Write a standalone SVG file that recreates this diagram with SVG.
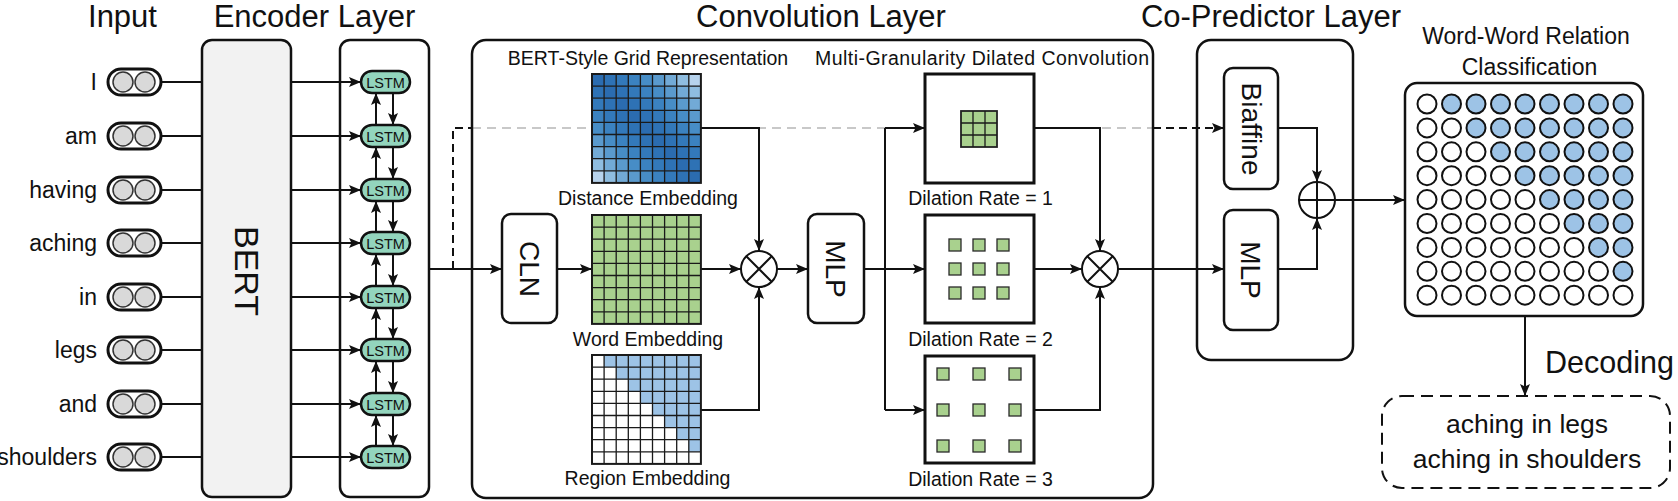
<svg xmlns="http://www.w3.org/2000/svg" xmlns:xlink="http://www.w3.org/1999/xlink" width="1678" height="501" viewBox="0 0 1678 501">
<style>
.t{font-family:"Liberation Sans",Arial,Helvetica,sans-serif;fill:#111}
.h{font-size:31px;text-anchor:middle}
.w{font-size:23px;text-anchor:end}
.s{font-size:19.5px;text-anchor:middle}
.m{text-anchor:middle}
.ln{fill:none;stroke:#111;stroke-width:2}
.ar{marker-end:url(#ah)}
.box{fill:none;stroke:#111;stroke-width:2.5}
.rb{fill:#fff;stroke:#111;stroke-width:2.5}
.dil{fill:#fff;stroke:#111;stroke-width:3}
.gl{fill:none;stroke:#1a1a1a;stroke-width:1.3}
.gb{fill:none;stroke:#1a1a1a;stroke-width:2}
.sq{fill:#a9d18e;stroke:#2a2a2a;stroke-width:1.3}
.pill{fill:#93d5bd;stroke:#111;stroke-width:2.5}
.oval{fill:#fff;stroke:#111;stroke-width:3}
.dot{fill:#d9d9d9;stroke:#333;stroke-width:1.5}
.op{fill:#fff;stroke:#111;stroke-width:2}
.d0{fill:#2b6cb0}.d1{fill:#2e72b5}.d2{fill:#3379ba}.d3{fill:#3b82c0}.d4{fill:#478dc6}.d5{fill:#5a9acd}.d6{fill:#72aad6}.d7{fill:#8fbde0}.d8{fill:#b7d3ed}
.cc circle{fill:#fff;stroke:#111;stroke-width:2}
.cc circle.b{fill:#9dc3e6}
</style>
<defs>
<marker id="ah" viewBox="0 0 12 10" refX="12" refY="5" markerWidth="12" markerHeight="10" markerUnits="userSpaceOnUse" orient="auto">
<path d="M0,0 L12,5 L0,10 L2.5,5 z" fill="#111"/>
</marker>
<g id="grid9">
<path class="gl" d="M0,12.1H108.9M0,24.2H108.9M0,36.3H108.9M0,48.4H108.9M0,60.5H108.9M0,72.6H108.9M0,84.7H108.9M0,96.8H108.9M12.1,0V108.9M24.2,0V108.9M36.3,0V108.9M48.4,0V108.9M60.5,0V108.9M72.6,0V108.9M84.7,0V108.9M96.8,0V108.9"/>
<rect class="gb" width="108.9" height="108.9"/>
</g>
<rect id="sq" class="sq" width="12" height="12"/>
</defs>

<!-- titles -->
<g id="titles">
<text class="t h" x="122.5" y="27">Input</text>
<text class="t h" x="314.5" y="27">Encoder Layer</text>
<text class="t h" x="821" y="27">Convolution Layer</text>
<text class="t h" x="1271" y="27">Co-Predictor Layer</text>
</g>

<!-- connectors -->
<g id="connectors">
<path class="ln" d="M161,82H202M161,136H202M161,190H202M161,243H202M161,297H202M161,350H202M161,404H202M161,457H202"/>
<path class="ln ar" d="M291,82H361"/>
<path class="ln ar" d="M291,136H361"/>
<path class="ln ar" d="M291,190H361"/>
<path class="ln ar" d="M291,243H361"/>
<path class="ln ar" d="M291,297H361"/>
<path class="ln ar" d="M291,350H361"/>
<path class="ln ar" d="M291,404H361"/>
<path class="ln ar" d="M291,457H361"/>
<path class="ln ar" d="M376,125V93"/><path class="ln ar" d="M393,93V125"/>
<path class="ln ar" d="M376,179V147"/><path class="ln ar" d="M393,147V179"/>
<path class="ln ar" d="M376,232V201"/><path class="ln ar" d="M393,201V232"/>
<path class="ln ar" d="M376,286V254"/><path class="ln ar" d="M393,254V286"/>
<path class="ln ar" d="M376,339V308"/><path class="ln ar" d="M393,308V339"/>
<path class="ln ar" d="M376,393V361"/><path class="ln ar" d="M393,361V393"/>
<path class="ln ar" d="M376,446V415"/><path class="ln ar" d="M393,415V446"/>
<path class="ln ar" d="M429,269H502"/>
<path class="ln" d="M472,128H1153" stroke="#c8c8c8" style="stroke:#c8c8c8" stroke-dasharray="9 6"/>
<path class="ln" d="M453,269V128H472" stroke-dasharray="8 5"/>
<path class="ln ar" d="M1153,128H1224" stroke-dasharray="8 5"/>
<path class="ln ar" d="M557,269H592"/>
<path class="ln ar" d="M700.9,128H759V251"/>
<path class="ln ar" d="M700.9,269H741"/>
<path class="ln ar" d="M700.9,410H759V287"/>
<path class="ln ar" d="M777,269H808"/>
<path class="ln" d="M864,269H885M885,128V410"/>
<path class="ln ar" d="M885,128H925"/>
<path class="ln ar" d="M885,269H925"/>
<path class="ln ar" d="M885,410H925"/>
<path class="ln ar" d="M1034,128H1100V251"/>
<path class="ln ar" d="M1034,269H1082"/>
<path class="ln ar" d="M1034,410H1100V287"/>
<path class="ln ar" d="M1118,269H1224"/>
<path class="ln ar" d="M1278,128H1317V182"/>
<path class="ln ar" d="M1278,269H1317V218"/>
<path class="ln ar" d="M1335,200H1405"/>
<path class="ln ar" d="M1525,316V396"/>
</g>

<!-- input words -->
<g id="inputs">
<g id="w0"><text class="t w" x="97" y="90">I</text><rect class="oval" x="108" y="69" width="53" height="26" rx="13"/><circle class="dot" cx="123" cy="82" r="10"/><circle class="dot" cx="145" cy="82" r="10"/></g>
<g id="w1"><text class="t w" x="97" y="144">am</text><rect class="oval" x="108" y="123" width="53" height="26" rx="13"/><circle class="dot" cx="123" cy="136" r="10"/><circle class="dot" cx="145" cy="136" r="10"/></g>
<g id="w2"><text class="t w" x="97" y="198">having</text><rect class="oval" x="108" y="177" width="53" height="26" rx="13"/><circle class="dot" cx="123" cy="190" r="10"/><circle class="dot" cx="145" cy="190" r="10"/></g>
<g id="w3"><text class="t w" x="97" y="251">aching</text><rect class="oval" x="108" y="230" width="53" height="26" rx="13"/><circle class="dot" cx="123" cy="243" r="10"/><circle class="dot" cx="145" cy="243" r="10"/></g>
<g id="w4"><text class="t w" x="97" y="305">in</text><rect class="oval" x="108" y="284" width="53" height="26" rx="13"/><circle class="dot" cx="123" cy="297" r="10"/><circle class="dot" cx="145" cy="297" r="10"/></g>
<g id="w5"><text class="t w" x="97" y="358">legs</text><rect class="oval" x="108" y="337" width="53" height="26" rx="13"/><circle class="dot" cx="123" cy="350" r="10"/><circle class="dot" cx="145" cy="350" r="10"/></g>
<g id="w6"><text class="t w" x="97" y="412">and</text><rect class="oval" x="108" y="391" width="53" height="26" rx="13"/><circle class="dot" cx="123" cy="404" r="10"/><circle class="dot" cx="145" cy="404" r="10"/></g>
<g id="w7"><text class="t w" x="97" y="465">shoulders</text><rect class="oval" x="108" y="444" width="53" height="26" rx="13"/><circle class="dot" cx="123" cy="457" r="10"/><circle class="dot" cx="145" cy="457" r="10"/></g>
</g>

<!-- encoder -->
<g id="bert">
<rect x="202" y="40" width="89" height="457" rx="10" fill="#f2f2f2" stroke="#111" stroke-width="2.5"/>
<text class="t m" font-size="34" transform="translate(246.5,271) rotate(90)" y="12">BERT</text>
</g>
<g id="lstm">
<rect class="box" x="340" y="40" width="89" height="457" rx="10"/>
<g font-size="14.5">
<rect class="pill" x="361" y="71" width="49" height="22" rx="11"/><text class="t m" x="385.5" y="87.5">LSTM</text>
<rect class="pill" x="361" y="125" width="49" height="22" rx="11"/><text class="t m" x="385.5" y="141.5">LSTM</text>
<rect class="pill" x="361" y="179" width="49" height="22" rx="11"/><text class="t m" x="385.5" y="195.5">LSTM</text>
<rect class="pill" x="361" y="232" width="49" height="22" rx="11"/><text class="t m" x="385.5" y="248.5">LSTM</text>
<rect class="pill" x="361" y="286" width="49" height="22" rx="11"/><text class="t m" x="385.5" y="302.5">LSTM</text>
<rect class="pill" x="361" y="339" width="49" height="22" rx="11"/><text class="t m" x="385.5" y="355.5">LSTM</text>
<rect class="pill" x="361" y="393" width="49" height="22" rx="11"/><text class="t m" x="385.5" y="409.5">LSTM</text>
<rect class="pill" x="361" y="446" width="49" height="22" rx="11"/><text class="t m" x="385.5" y="462.5">LSTM</text>
</g>
</g>

<!-- convolution layer -->
<g id="conv-layer">
<rect class="box" x="472" y="40" width="681" height="458" rx="14"/>
<text class="t s" x="648" y="65">BERT-Style Grid Representation</text>
<text class="t" font-size="19.5" x="815" y="65" textLength="334" lengthAdjust="spacing">Multi-Granularity Dilated Convolution</text>
</g>

<g id="cln">
<rect class="rb" x="502" y="214" width="55" height="109" rx="9"/>
<text class="t m" font-size="28" transform="translate(529.5,269) rotate(90)" y="10">CLN</text>
</g>

<g id="distance-embedding">
<g transform="translate(592,74)">
<rect class="d0" x="0" y="0" width="12.1" height="12.1"/><rect class="d1" x="12.1" y="0" width="12.1" height="12.1"/><rect class="d2" x="24.2" y="0" width="12.1" height="12.1"/><rect class="d3" x="36.3" y="0" width="12.1" height="12.1"/><rect class="d4" x="48.4" y="0" width="12.1" height="12.1"/><rect class="d5" x="60.5" y="0" width="12.1" height="12.1"/><rect class="d6" x="72.6" y="0" width="12.1" height="12.1"/><rect class="d7" x="84.7" y="0" width="12.1" height="12.1"/><rect class="d8" x="96.8" y="0" width="12.1" height="12.1"/>
<rect class="d1" x="0" y="12.1" width="12.1" height="12.1"/><rect class="d0" x="12.1" y="12.1" width="12.1" height="12.1"/><rect class="d1" x="24.2" y="12.1" width="12.1" height="12.1"/><rect class="d2" x="36.3" y="12.1" width="12.1" height="12.1"/><rect class="d3" x="48.4" y="12.1" width="12.1" height="12.1"/><rect class="d4" x="60.5" y="12.1" width="12.1" height="12.1"/><rect class="d5" x="72.6" y="12.1" width="12.1" height="12.1"/><rect class="d6" x="84.7" y="12.1" width="12.1" height="12.1"/><rect class="d7" x="96.8" y="12.1" width="12.1" height="12.1"/>
<rect class="d2" x="0" y="24.2" width="12.1" height="12.1"/><rect class="d1" x="12.1" y="24.2" width="12.1" height="12.1"/><rect class="d0" x="24.2" y="24.2" width="12.1" height="12.1"/><rect class="d1" x="36.3" y="24.2" width="12.1" height="12.1"/><rect class="d2" x="48.4" y="24.2" width="12.1" height="12.1"/><rect class="d3" x="60.5" y="24.2" width="12.1" height="12.1"/><rect class="d4" x="72.6" y="24.2" width="12.1" height="12.1"/><rect class="d5" x="84.7" y="24.2" width="12.1" height="12.1"/><rect class="d6" x="96.8" y="24.2" width="12.1" height="12.1"/>
<rect class="d3" x="0" y="36.3" width="12.1" height="12.1"/><rect class="d2" x="12.1" y="36.3" width="12.1" height="12.1"/><rect class="d1" x="24.2" y="36.3" width="12.1" height="12.1"/><rect class="d0" x="36.3" y="36.3" width="12.1" height="12.1"/><rect class="d1" x="48.4" y="36.3" width="12.1" height="12.1"/><rect class="d2" x="60.5" y="36.3" width="12.1" height="12.1"/><rect class="d3" x="72.6" y="36.3" width="12.1" height="12.1"/><rect class="d4" x="84.7" y="36.3" width="12.1" height="12.1"/><rect class="d5" x="96.8" y="36.3" width="12.1" height="12.1"/>
<rect class="d4" x="0" y="48.4" width="12.1" height="12.1"/><rect class="d3" x="12.1" y="48.4" width="12.1" height="12.1"/><rect class="d2" x="24.2" y="48.4" width="12.1" height="12.1"/><rect class="d1" x="36.3" y="48.4" width="12.1" height="12.1"/><rect class="d0" x="48.4" y="48.4" width="12.1" height="12.1"/><rect class="d1" x="60.5" y="48.4" width="12.1" height="12.1"/><rect class="d2" x="72.6" y="48.4" width="12.1" height="12.1"/><rect class="d3" x="84.7" y="48.4" width="12.1" height="12.1"/><rect class="d4" x="96.8" y="48.4" width="12.1" height="12.1"/>
<rect class="d5" x="0" y="60.5" width="12.1" height="12.1"/><rect class="d4" x="12.1" y="60.5" width="12.1" height="12.1"/><rect class="d3" x="24.2" y="60.5" width="12.1" height="12.1"/><rect class="d2" x="36.3" y="60.5" width="12.1" height="12.1"/><rect class="d1" x="48.4" y="60.5" width="12.1" height="12.1"/><rect class="d0" x="60.5" y="60.5" width="12.1" height="12.1"/><rect class="d1" x="72.6" y="60.5" width="12.1" height="12.1"/><rect class="d2" x="84.7" y="60.5" width="12.1" height="12.1"/><rect class="d3" x="96.8" y="60.5" width="12.1" height="12.1"/>
<rect class="d6" x="0" y="72.6" width="12.1" height="12.1"/><rect class="d5" x="12.1" y="72.6" width="12.1" height="12.1"/><rect class="d4" x="24.2" y="72.6" width="12.1" height="12.1"/><rect class="d3" x="36.3" y="72.6" width="12.1" height="12.1"/><rect class="d2" x="48.4" y="72.6" width="12.1" height="12.1"/><rect class="d1" x="60.5" y="72.6" width="12.1" height="12.1"/><rect class="d0" x="72.6" y="72.6" width="12.1" height="12.1"/><rect class="d1" x="84.7" y="72.6" width="12.1" height="12.1"/><rect class="d2" x="96.8" y="72.6" width="12.1" height="12.1"/>
<rect class="d7" x="0" y="84.7" width="12.1" height="12.1"/><rect class="d6" x="12.1" y="84.7" width="12.1" height="12.1"/><rect class="d5" x="24.2" y="84.7" width="12.1" height="12.1"/><rect class="d4" x="36.3" y="84.7" width="12.1" height="12.1"/><rect class="d3" x="48.4" y="84.7" width="12.1" height="12.1"/><rect class="d2" x="60.5" y="84.7" width="12.1" height="12.1"/><rect class="d1" x="72.6" y="84.7" width="12.1" height="12.1"/><rect class="d0" x="84.7" y="84.7" width="12.1" height="12.1"/><rect class="d1" x="96.8" y="84.7" width="12.1" height="12.1"/>
<rect class="d8" x="0" y="96.8" width="12.1" height="12.1"/><rect class="d7" x="12.1" y="96.8" width="12.1" height="12.1"/><rect class="d6" x="24.2" y="96.8" width="12.1" height="12.1"/><rect class="d5" x="36.3" y="96.8" width="12.1" height="12.1"/><rect class="d4" x="48.4" y="96.8" width="12.1" height="12.1"/><rect class="d3" x="60.5" y="96.8" width="12.1" height="12.1"/><rect class="d2" x="72.6" y="96.8" width="12.1" height="12.1"/><rect class="d1" x="84.7" y="96.8" width="12.1" height="12.1"/><rect class="d0" x="96.8" y="96.8" width="12.1" height="12.1"/>
</g>
<use xlink:href="#grid9" href="#grid9" x="592" y="74"/>
<text class="t s" x="648" y="205">Distance Embedding</text>
</g>

<g id="word-embedding">
<rect x="592" y="215" width="108.9" height="108.9" fill="#a9d18e"/>
<use xlink:href="#grid9" href="#grid9" x="592" y="215"/>
<text class="t s" x="648" y="346">Word Embedding</text>
</g>

<g id="region-embedding">
<rect x="592" y="355" width="108.9" height="108.9" fill="#fff"/>
<polygon transform="translate(592,355)" fill="#9dc3e6" points="12.1,0 108.9,0 108.9,96.8 96.8,96.8 96.8,84.7 84.7,84.7 84.7,72.6 72.6,72.6 72.6,60.5 60.5,60.5 60.5,48.4 48.4,48.4 48.4,36.3 36.3,36.3 36.3,24.2 24.2,24.2 24.2,12.1 12.1,12.1"/>
<use xlink:href="#grid9" href="#grid9" x="592" y="355"/>
<text class="t s" x="647.5" y="485">Region Embedding</text>
</g>

<g id="mult1">
<circle class="op" cx="759" cy="269" r="18"/>
<path class="ln" d="M746.3,256.3L771.7,281.7M771.7,256.3L746.3,281.7"/>
</g>

<g id="mlp-conv">
<rect class="rb" x="808" y="214" width="56" height="109" rx="9"/>
<text class="t m" font-size="28" transform="translate(836,269) rotate(90)" y="10">MLP</text>
</g>

<g id="dilation1">
<rect class="dil" x="925" y="74" width="109" height="109"/>
<rect x="961" y="111" width="36" height="36" fill="#a9d18e" stroke="#222" stroke-width="1.8"/>
<path class="gl" d="M973,111V147M985,111V147M961,123H997M961,135H997"/>
<text class="t s" x="980.5" y="205">Dilation Rate = 1</text>
</g>

<g id="dilation2">
<rect class="dil" x="925" y="215" width="109" height="108"/>
<use xlink:href="#sq" href="#sq" x="949" y="239"/><use xlink:href="#sq" href="#sq" x="973" y="239"/><use xlink:href="#sq" href="#sq" x="997" y="239"/>
<use xlink:href="#sq" href="#sq" x="949" y="263"/><use xlink:href="#sq" href="#sq" x="973" y="263"/><use xlink:href="#sq" href="#sq" x="997" y="263"/>
<use xlink:href="#sq" href="#sq" x="949" y="287"/><use xlink:href="#sq" href="#sq" x="973" y="287"/><use xlink:href="#sq" href="#sq" x="997" y="287"/>
<text class="t s" x="980.5" y="346">Dilation Rate = 2</text>
</g>

<g id="dilation3">
<rect class="dil" x="925" y="356" width="109" height="107"/>
<use xlink:href="#sq" href="#sq" x="937" y="368"/><use xlink:href="#sq" href="#sq" x="973" y="368"/><use xlink:href="#sq" href="#sq" x="1009" y="368"/>
<use xlink:href="#sq" href="#sq" x="937" y="404"/><use xlink:href="#sq" href="#sq" x="973" y="404"/><use xlink:href="#sq" href="#sq" x="1009" y="404"/>
<use xlink:href="#sq" href="#sq" x="937" y="440"/><use xlink:href="#sq" href="#sq" x="973" y="440"/><use xlink:href="#sq" href="#sq" x="1009" y="440"/>
<text class="t s" x="980.5" y="486">Dilation Rate = 3</text>
</g>

<g id="mult2">
<circle class="op" cx="1100" cy="269" r="18"/>
<path class="ln" d="M1087.3,256.3L1112.7,281.7M1112.7,256.3L1087.3,281.7"/>
</g>

<!-- co-predictor -->
<g id="co-predictor">
<rect class="box" x="1197" y="40" width="156" height="320" rx="14"/>
</g>
<g id="biaffine">
<rect class="rb" x="1224" y="68" width="54" height="121" rx="9"/>
<text class="t m" font-size="28" transform="translate(1251.5,129) rotate(90)" y="10">Biaffine</text>
</g>
<g id="mlp-pred">
<rect class="rb" x="1224" y="210" width="54" height="120" rx="9"/>
<text class="t m" font-size="28" transform="translate(1251,270) rotate(90)" y="10">MLP</text>
</g>
<g id="plus">
<circle class="op" cx="1317" cy="200" r="18"/>
<path class="ln" d="M1299,200H1335M1317,182V218"/>
</g>

<!-- classification -->
<g id="classification">
<text class="t m" font-size="23" x="1526" y="44">Word-Word Relation</text>
<text class="t m" font-size="23" x="1529.5" y="75">Classification</text>
<rect class="rb" x="1405" y="83" width="238" height="233" rx="12"/>
<g class="cc">
<g transform="translate(0,104)"><circle cx="1427" r="9.5"/><circle class="b" cx="1451.5" r="9.5"/><circle class="b" cx="1476" r="9.5"/><circle class="b" cx="1500.5" r="9.5"/><circle class="b" cx="1525" r="9.5"/><circle class="b" cx="1549.5" r="9.5"/><circle class="b" cx="1574" r="9.5"/><circle class="b" cx="1598.5" r="9.5"/><circle class="b" cx="1623" r="9.5"/></g>
<g transform="translate(0,127.9)"><circle cx="1427" r="9.5"/><circle cx="1451.5" r="9.5"/><circle class="b" cx="1476" r="9.5"/><circle class="b" cx="1500.5" r="9.5"/><circle class="b" cx="1525" r="9.5"/><circle class="b" cx="1549.5" r="9.5"/><circle class="b" cx="1574" r="9.5"/><circle class="b" cx="1598.5" r="9.5"/><circle class="b" cx="1623" r="9.5"/></g>
<g transform="translate(0,151.8)"><circle cx="1427" r="9.5"/><circle cx="1451.5" r="9.5"/><circle cx="1476" r="9.5"/><circle class="b" cx="1500.5" r="9.5"/><circle class="b" cx="1525" r="9.5"/><circle class="b" cx="1549.5" r="9.5"/><circle class="b" cx="1574" r="9.5"/><circle class="b" cx="1598.5" r="9.5"/><circle class="b" cx="1623" r="9.5"/></g>
<g transform="translate(0,175.7)"><circle cx="1427" r="9.5"/><circle cx="1451.5" r="9.5"/><circle cx="1476" r="9.5"/><circle cx="1500.5" r="9.5"/><circle class="b" cx="1525" r="9.5"/><circle class="b" cx="1549.5" r="9.5"/><circle class="b" cx="1574" r="9.5"/><circle class="b" cx="1598.5" r="9.5"/><circle class="b" cx="1623" r="9.5"/></g>
<g transform="translate(0,199.6)"><circle cx="1427" r="9.5"/><circle cx="1451.5" r="9.5"/><circle cx="1476" r="9.5"/><circle cx="1500.5" r="9.5"/><circle cx="1525" r="9.5"/><circle class="b" cx="1549.5" r="9.5"/><circle class="b" cx="1574" r="9.5"/><circle class="b" cx="1598.5" r="9.5"/><circle class="b" cx="1623" r="9.5"/></g>
<g transform="translate(0,223.5)"><circle cx="1427" r="9.5"/><circle cx="1451.5" r="9.5"/><circle cx="1476" r="9.5"/><circle cx="1500.5" r="9.5"/><circle cx="1525" r="9.5"/><circle cx="1549.5" r="9.5"/><circle class="b" cx="1574" r="9.5"/><circle class="b" cx="1598.5" r="9.5"/><circle class="b" cx="1623" r="9.5"/></g>
<g transform="translate(0,247.4)"><circle cx="1427" r="9.5"/><circle cx="1451.5" r="9.5"/><circle cx="1476" r="9.5"/><circle cx="1500.5" r="9.5"/><circle cx="1525" r="9.5"/><circle cx="1549.5" r="9.5"/><circle cx="1574" r="9.5"/><circle class="b" cx="1598.5" r="9.5"/><circle class="b" cx="1623" r="9.5"/></g>
<g transform="translate(0,271.3)"><circle cx="1427" r="9.5"/><circle cx="1451.5" r="9.5"/><circle cx="1476" r="9.5"/><circle cx="1500.5" r="9.5"/><circle cx="1525" r="9.5"/><circle cx="1549.5" r="9.5"/><circle cx="1574" r="9.5"/><circle cx="1598.5" r="9.5"/><circle class="b" cx="1623" r="9.5"/></g>
<g transform="translate(0,295.2)"><circle cx="1427" r="9.5"/><circle cx="1451.5" r="9.5"/><circle cx="1476" r="9.5"/><circle cx="1500.5" r="9.5"/><circle cx="1525" r="9.5"/><circle cx="1549.5" r="9.5"/><circle cx="1574" r="9.5"/><circle cx="1598.5" r="9.5"/><circle cx="1623" r="9.5"/></g>
</g>
</g>

<g id="decoding">
<text class="t" font-size="30.5" x="1545" y="373">Decoding</text>
</g>
<g id="result">
<rect x="1382" y="396" width="288" height="92" rx="20" fill="none" stroke="#111" stroke-width="2" stroke-dasharray="12 7"/>
<text class="t m" font-size="26.5" x="1527" y="433">aching in legs</text>
<text class="t m" font-size="26.5" x="1527" y="468">aching in shoulders</text>
</g>
</svg>
